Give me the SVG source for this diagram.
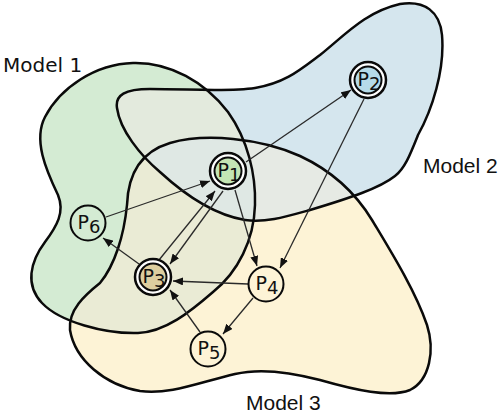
<svg xmlns="http://www.w3.org/2000/svg" xmlns:xlink="http://www.w3.org/1999/xlink" width="500" height="413" viewBox="0 0 500 413">
<style>
.outline{fill:none;stroke:#0a0a0a;stroke-width:2.5;stroke-linejoin:round}
.edge{stroke:#2a2a2a;stroke-width:1.3;fill:none;marker-end:url(#arr)}
.ring{fill:#ffffff;stroke:#0a0a0a;stroke-width:2.5}
.inner{stroke:#0a0a0a;stroke-width:2}
.node{stroke:#0a0a0a;stroke-width:2}
.lbl{font-family:"DejaVu Sans","Verdana",sans-serif;font-size:19px;fill:#111}
.lbl tspan{font-size:18px}
.mlabel{font-family:"Liberation Sans","Arial",sans-serif;font-size:21px;fill:#111}
</style>
<defs>
<path id="m1" d="M133,63 C170,62 205,82 228,112 C248,140 256,175 255,205 C254,240 238,272 213,292 C190,312 165,332 138,333 C105,334 60,322 42,303 C25,285 30,262 45,242 C57,226 65,212 58,195 C46,170 33,140 45,117 C60,88 95,64 133,63 Z"/>
<path id="m2" d="M117,108 C115,95 125,89 150,89 C190,89 230,92 255,88 C285,83 300,70 320,55 C345,35 365,12 400,4 C425,0 440,12 442,35 C445,70 432,110 418,135 C410,155 405,168 395,176 C380,188 350,198 310,210 C285,217 265,223 245,220 C215,215 185,195 160,172 C140,155 120,130 117,108 Z"/>
<path id="m3" d="M127,205 C128,175 140,152 170,143 C205,133 260,138 300,156 C330,170 355,192 372,220 C390,250 415,290 427,325 C435,350 430,380 410,390 C390,398 355,390 320,380 C290,372 260,368 235,374 C200,382 170,395 140,391 C105,385 75,360 70,330 C68,310 85,295 100,283 C115,265 124,235 127,205 Z"/>
<clipPath id="c1"><use xlink:href="#m1"/></clipPath>
<clipPath id="c2"><use xlink:href="#m2"/></clipPath>
<clipPath id="c3"><use xlink:href="#m3"/></clipPath>
<marker id="arr" viewBox="0 0 10 8" refX="10" refY="4" markerWidth="10" markerHeight="8" markerUnits="userSpaceOnUse" orient="auto">
<path d="M0,0 L10,4 L0,8 z" fill="#111"/>
</marker>
</defs>

<g id="regions">
<use xlink:href="#m1" fill="#d4ebd3"/>
<use xlink:href="#m2" fill="#d5e6ee"/>
<use xlink:href="#m3" fill="#fdf3d6"/>
<use xlink:href="#m1" fill="#e3eadd" clip-path="url(#c2)"/>
<use xlink:href="#m1" fill="#eaebd5" clip-path="url(#c3)"/>
<use xlink:href="#m2" fill="#e6eae4" clip-path="url(#c3)"/>
<g clip-path="url(#c3)"><use xlink:href="#m1" fill="#dfe8e4" clip-path="url(#c2)"/></g>
<use xlink:href="#m1" class="outline"/>
<use xlink:href="#m2" class="outline"/>
<use xlink:href="#m3" class="outline"/>
</g>

<g id="model-labels">
<text x="3" y="72" style="font-family:'DejaVu Sans','Verdana',sans-serif;font-size:20px;fill:#111">Model 1</text>
<text class="mlabel" x="423" y="173">Model 2</text>
<text class="mlabel" x="246" y="410">Model 3</text>
</g>

<g id="connectors">
<line class="edge" x1="106" y1="217" x2="210" y2="181"/>
<line class="edge" x1="246" y1="162" x2="351" y2="90"/>
<line class="edge" x1="364" y1="99" x2="280" y2="268"/>
<line class="edge" x1="235" y1="190" x2="257" y2="266"/>
<line class="edge" x1="159" y1="260" x2="215" y2="191"/>
<line class="edge" x1="223" y1="191" x2="170" y2="264"/>
<line class="edge" x1="248" y1="284" x2="173" y2="281"/>
<line class="edge" x1="200" y1="332" x2="170" y2="290"/>
<line class="edge" x1="253" y1="298" x2="223" y2="334"/>
<line class="edge" x1="139" y1="264" x2="103" y2="238"/>
</g>

<g id="P1">
<circle class="ring" cx="228" cy="171" r="18"/>
<circle class="inner" cx="228" cy="171" r="13.5" fill="#c4e5b4"/>
<text class="lbl" x="229" y="177" text-anchor="middle">P<tspan dy="4">1</tspan></text>
</g>
<g id="P2">
<circle class="ring" cx="368" cy="80" r="18"/>
<circle class="inner" cx="368" cy="80" r="13.5" fill="#b6dbe9"/>
<text class="lbl" x="369" y="86" text-anchor="middle">P<tspan dy="4">2</tspan></text>
</g>
<g id="P3">
<circle class="ring" cx="153" cy="277" r="18"/>
<circle class="inner" cx="153" cy="277" r="13.5" fill="#ddce9f"/>
<text class="lbl" x="154" y="283" text-anchor="middle">P<tspan dy="4">3</tspan></text>
</g>
<g id="P4">
<circle class="node" cx="266" cy="284" r="17.5" fill="#fdf3d6"/>
<text class="lbl" x="267" y="290" text-anchor="middle">P<tspan dy="4">4</tspan></text>
</g>
<g id="P5">
<circle class="node" cx="208" cy="349" r="17.5" fill="#fdf3d6"/>
<text class="lbl" x="209" y="355" text-anchor="middle">P<tspan dy="4">5</tspan></text>
</g>
<g id="P6">
<circle class="node" cx="88" cy="223" r="17.5" fill="#d4ebd3"/>
<text class="lbl" x="89" y="229" text-anchor="middle">P<tspan dy="4">6</tspan></text>
</g>
</svg>
